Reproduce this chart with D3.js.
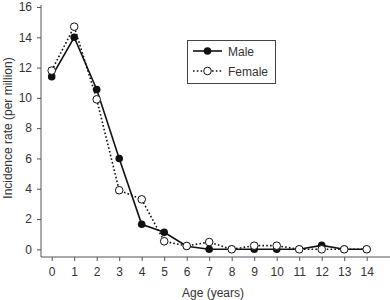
<!DOCTYPE html>
<html>
<head>
<meta charset="utf-8">
<script src="https://cdn.jsdelivr.net/npm/d3@7"></script>
<style>
  body { margin: 0; background: #fff; }
  svg text { font-family: "Liberation Sans", Arial, sans-serif; fill: #333; }
</style>
</head>
<body>
<script>
  const ages = [0, 1, 2, 3, 4, 5, 6, 7, 8, 9, 10, 11, 12, 13, 14];
  const male = [11.4, 14.0, 10.55, 6.0, 1.65, 1.12, 0.2, 0, 0, 0, 0, 0, 0.26, 0, 0];
  const female = [11.8, 14.7, 9.9, 3.9, 3.3, 0.53, 0.22, 0.48, 0, 0.24, 0.24, 0, 0, 0, 0];
  const yTicks = [0, 2, 4, 6, 8, 10, 12, 14, 16];

  const width = 390;
  const height = 300;

  const svg = d3.select('body')
          .append('svg')
          .attr('width', width)
          .attr('height', height);

  const x = d3.scaleLinear().domain([0, 14]).range([51.7, 366.7]);
  const y = d3.scaleLinear().domain([0, 16]).range([249.3, 7]);

  const axisLeftX = 41;
  const axisBottomY = 257;

  // y axis
  const yAxis = svg.append('g')
          .attr('transform', `translate(${axisLeftX},0)`)
          .call(d3.axisLeft(y).tickValues(yTicks).tickSize(4).tickPadding(5));
  yAxis.select('.domain').remove();
  yAxis.selectAll('line').attr('stroke', '#555');
  yAxis.selectAll('text').attr('font-size', '12px').attr('fill', '#333');
  svg.append('line')
          .attr('x1', axisLeftX).attr('x2', axisLeftX)
          .attr('y1', 5).attr('y2', axisBottomY)
          .attr('stroke', '#555');

  // x axis
  const xAxis = svg.append('g')
          .attr('transform', `translate(0,${axisBottomY})`)
          .call(d3.axisBottom(x).tickValues(ages).tickSize(4).tickPadding(6).tickFormat(d3.format('d')));
  xAxis.select('.domain').remove();
  xAxis.selectAll('line').attr('stroke', '#555');
  xAxis.selectAll('text').attr('font-size', '12px').attr('fill', '#333');
  svg.append('line')
          .attr('x1', axisLeftX).attr('x2', width)
          .attr('y1', axisBottomY).attr('y2', axisBottomY)
          .attr('stroke', '#555');

  // axis titles
  svg.append('text')
          .attr('x', 213)
          .attr('y', 297)
          .attr('text-anchor', 'middle')
          .attr('font-size', '12px')
          .text('Age (years)');
  svg.append('text')
          .attr('transform', 'translate(12,128) rotate(-90)')
          .attr('text-anchor', 'middle')
          .attr('font-size', '12px')
          .text('Incidence rate (per million)');

  const line = d3.line()
          .x((d, i) => x(ages[i]))
          .y(d => y(d));

  // male
  svg.append('path')
          .datum(male)
          .attr('d', line)
          .attr('fill', 'none')
          .attr('stroke', '#111')
          .attr('stroke-width', 1.6);
  svg.append('g')
          .selectAll('circle')
          .data(male)
          .enter()
          .append('circle')
          .attr('cx', (d, i) => x(ages[i]))
          .attr('cy', d => y(d))
          .attr('r', 3.8)
          .attr('fill', '#111');

  // female
  svg.append('path')
          .datum(female)
          .attr('d', line)
          .attr('fill', 'none')
          .attr('stroke', '#111')
          .attr('stroke-width', 1.6)
          .attr('stroke-dasharray', '1.6,2.2');
  svg.append('g')
          .selectAll('circle')
          .data(female)
          .enter()
          .append('circle')
          .attr('cx', (d, i) => x(ages[i]))
          .attr('cy', d => y(d))
          .attr('r', 3.8)
          .attr('fill', '#fff')
          .attr('stroke', '#111')
          .attr('stroke-width', 1);

  // legend
  const legend = svg.append('g');
  legend.append('rect')
          .attr('x', 187.5).attr('y', 40.5)
          .attr('width', 88).attr('height', 43)
          .attr('fill', '#fff')
          .attr('stroke', '#444');
  legend.append('line')
          .attr('x1', 193).attr('x2', 222).attr('y1', 51).attr('y2', 51)
          .attr('stroke', '#111').attr('stroke-width', 1.6);
  legend.append('circle')
          .attr('cx', 207.5).attr('cy', 51).attr('r', 3.8).attr('fill', '#111');
  legend.append('line')
          .attr('x1', 193).attr('x2', 222).attr('y1', 71).attr('y2', 71)
          .attr('stroke', '#111').attr('stroke-width', 1.6)
          .attr('stroke-dasharray', '1.6,2.2');
  legend.append('circle')
          .attr('cx', 207.5).attr('cy', 71).attr('r', 3.8)
          .attr('fill', '#fff').attr('stroke', '#111');
  legend.append('text')
          .attr('x', 228).attr('y', 55.5)
          .attr('font-size', '12px')
          .text('Male');
  legend.append('text')
          .attr('x', 228).attr('y', 75.5)
          .attr('font-size', '12px')
          .text('Female');
</script>
</body>
</html>
